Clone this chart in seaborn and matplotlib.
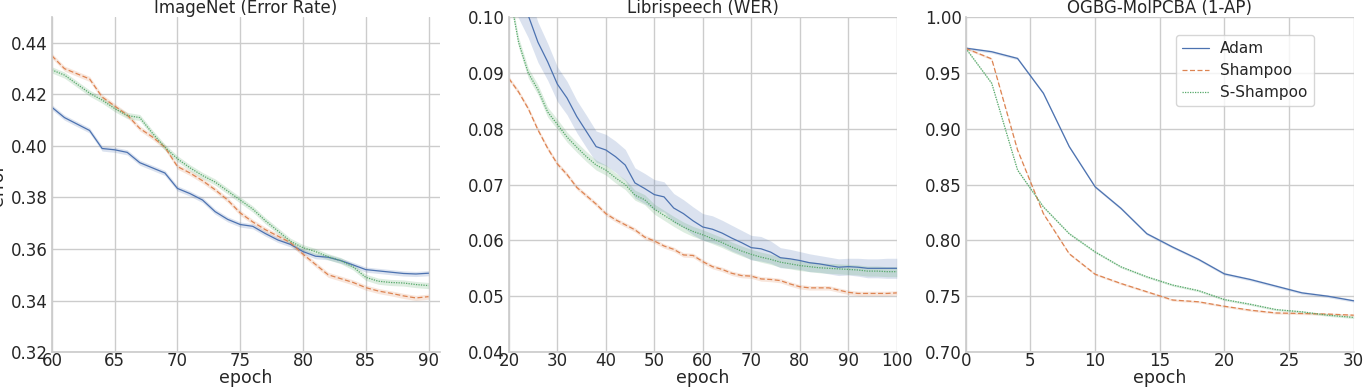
import numpy as np
import pandas as pd
import matplotlib
matplotlib.use("Agg")
import matplotlib.pyplot as plt
import seaborn as sns

optimizers = ["Adam", "Shampoo", "S-Shampoo"]

# ---------------- ImageNet ----------------
imagenet_epoch = list(range(60, 91))
imagenet_adam = [0.4150, 0.4110, 0.4085, 0.4060, 0.3990, 0.3985, 0.3975, 0.3935, 0.3915, 0.3895,
                 0.3835, 0.3815, 0.3790, 0.3745, 0.3715, 0.3695, 0.3688, 0.3660, 0.3635, 0.3618,
                 0.3590, 0.3572, 0.3568, 0.3555, 0.3538, 0.3520, 0.3515, 0.3510, 0.3505, 0.3503, 0.3506]
imagenet_shampoo = [0.4350, 0.4300, 0.4280, 0.4260, 0.4190, 0.4155, 0.4120, 0.4068, 0.4035, 0.3995,
                    0.3920, 0.3895, 0.3865, 0.3830, 0.3790, 0.3740, 0.3705, 0.3675, 0.3650, 0.3625,
                    0.3580, 0.3540, 0.3500, 0.3485, 0.3470, 0.3450, 0.3437, 0.3428, 0.3418, 0.3410, 0.3415]
imagenet_sshampoo = [0.4295, 0.4275, 0.4240, 0.4205, 0.4178, 0.4145, 0.4118, 0.4110, 0.4050, 0.3995,
                     0.3950, 0.3915, 0.3885, 0.3860, 0.3825, 0.3790, 0.3755, 0.3710, 0.3670, 0.3630,
                     0.3605, 0.3590, 0.3570, 0.3555, 0.3530, 0.3490, 0.3475, 0.3470, 0.3468, 0.3462, 0.3458]
imagenet_band = {"Adam": 0.0010, "Shampoo": 0.0010, "S-Shampoo": 0.0012}

# ---------------- Librispeech ----------------
libri_epoch = list(range(20, 101, 2))
libri_adam = [0.1080, 0.1040, 0.1003, 0.0955, 0.0920, 0.0880, 0.0855, 0.0822, 0.0795, 0.0768,
              0.0762, 0.0750, 0.0735, 0.0703, 0.0693, 0.0682, 0.0678, 0.0658, 0.0648, 0.0635,
              0.0624, 0.0620, 0.0613, 0.0604, 0.0596, 0.0587, 0.0585, 0.0579, 0.0569, 0.0567,
              0.0564, 0.0560, 0.0558, 0.0555, 0.0552, 0.0553, 0.0552, 0.0550, 0.0550, 0.0550, 0.0550]
libri_shampoo = [0.0890, 0.0866, 0.0836, 0.0798, 0.0765, 0.0737, 0.0718, 0.0695, 0.0680, 0.0665,
                 0.0648, 0.0637, 0.0628, 0.0619, 0.0606, 0.0599, 0.0590, 0.0584, 0.0574, 0.0573,
                 0.0562, 0.0553, 0.0548, 0.0541, 0.0537, 0.0536, 0.0531, 0.0530, 0.0528, 0.0522,
                 0.0517, 0.0515, 0.0515, 0.0515, 0.0511, 0.0507, 0.0505, 0.0505, 0.0505, 0.0505, 0.0506]
libri_sshampoo = [0.1050, 0.0955, 0.0900, 0.0870, 0.0830, 0.0808, 0.0785, 0.0767, 0.0750, 0.0735,
                  0.0726, 0.0712, 0.0700, 0.0681, 0.0673, 0.0656, 0.0645, 0.0634, 0.0624, 0.0616,
                  0.0610, 0.0603, 0.0596, 0.0588, 0.0581, 0.0575, 0.0570, 0.0566, 0.0561, 0.0558,
                  0.0555, 0.0553, 0.0551, 0.0550, 0.0549, 0.0548, 0.0547, 0.0545, 0.0545, 0.0544, 0.0544]
libri_adam_band = [0.0045, 0.0042, 0.0040, 0.0036, 0.0033, 0.0031, 0.0030, 0.0029, 0.0029, 0.0028,
                   0.0028, 0.0028, 0.0028, 0.0027, 0.0027, 0.0027, 0.0027, 0.0026, 0.0025, 0.0025,
                   0.0024, 0.0024, 0.0023, 0.0023, 0.0022, 0.0022, 0.0022, 0.0020, 0.0018, 0.0017,
                   0.0016, 0.0016, 0.0015, 0.0015, 0.0015, 0.0015, 0.0016, 0.0017, 0.0017, 0.0018, 0.0018]
libri_band = {"Shampoo": 0.0004, "S-Shampoo": 0.0009}

# ---------------- OGBG-MolPCBA ----------------
ogbg_epoch = list(range(0, 31, 2))
ogbg_adam = [0.9722, 0.9690, 0.9630, 0.9318, 0.8840, 0.8480, 0.8287, 0.8060, 0.7940, 0.7830,
             0.7700, 0.7650, 0.7590, 0.7530, 0.7500, 0.7459]
ogbg_shampoo = [0.9720, 0.9626, 0.8810, 0.8240, 0.7880, 0.7697, 0.7614, 0.7540, 0.7466, 0.7450,
                0.7410, 0.7375, 0.7350, 0.7345, 0.7340, 0.7330]
ogbg_sshampoo = [0.9720, 0.9408, 0.8630, 0.8300, 0.8060, 0.7897, 0.7763, 0.7674, 0.7600, 0.7550,
                 0.7470, 0.7428, 0.7380, 0.7360, 0.7330, 0.7310]
ogbg_band = {"Adam": 0.0012, "Shampoo": 0.0010, "S-Shampoo": 0.0010}

sns.set_theme(style="whitegrid")
plt.rcParams["font.family"] = ["DejaVu Sans"]

palette = dict(zip(optimizers, sns.color_palette("deep", 3)))
dashes = {"Adam": "", "Shampoo": (4, 2), "S-Shampoo": (1, 1)}


def make_df(epochs, series):
    rows = []
    for name, vals in series.items():
        for e, v in zip(epochs, vals):
            rows.append({"epoch": e, "error": v, "optimizer": name})
    return pd.DataFrame(rows)


fig, axes = plt.subplots(1, 3, figsize=(13.66, 3.89), dpi=100)
fig.subplots_adjust(left=0.038, right=0.991, bottom=0.095, top=0.956, wspace=0.178)

panels = [
    ("ImageNet (Error Rate)", imagenet_epoch,
     {"Adam": imagenet_adam, "Shampoo": imagenet_shampoo, "S-Shampoo": imagenet_sshampoo},
     {k: [imagenet_band[k]] * len(imagenet_epoch) for k in optimizers},
     (60, 90.9), (0.32, 0.45), [0.32, 0.34, 0.36, 0.38, 0.40, 0.42, 0.44], [60, 65, 70, 75, 80, 85, 90]),
    ("Librispeech (WER)", libri_epoch,
     {"Adam": libri_adam, "Shampoo": libri_shampoo, "S-Shampoo": libri_sshampoo},
     {"Adam": libri_adam_band,
      "Shampoo": [libri_band["Shampoo"]] * len(libri_epoch),
      "S-Shampoo": [libri_band["S-Shampoo"]] * len(libri_epoch)},
     (20, 100), (0.04, 0.10), [0.04, 0.05, 0.06, 0.07, 0.08, 0.09, 0.10], list(range(20, 101, 10))),
    ("OGBG-MolPCBA (1-AP)", ogbg_epoch,
     {"Adam": ogbg_adam, "Shampoo": ogbg_shampoo, "S-Shampoo": ogbg_sshampoo},
     {k: [ogbg_band[k]] * len(ogbg_epoch) for k in optimizers},
     (0, 30), (0.70, 1.00), [0.70, 0.75, 0.80, 0.85, 0.90, 0.95, 1.00], [0, 5, 10, 15, 20, 25, 30]),
]

for i, (ax, (title, ep, series, bands, xl, yl, yt, xt)) in enumerate(zip(axes, panels)):
    df = make_df(ep, series)
    sns.lineplot(data=df, x="epoch", y="error", hue="optimizer", style="optimizer",
                 hue_order=optimizers, style_order=optimizers, palette=palette,
                 dashes=dashes, errorbar=None, linewidth=0.9, ax=ax, legend=(i == 2))
    for name in optimizers:
        m = np.array(series[name])
        b = np.array(bands[name])
        ax.fill_between(ep, m - b, m + b, color=palette[name], alpha=0.2, linewidth=0)
    ax.set_xlim(*xl)
    ax.set_ylim(*yl)
    ax.set_yticks(yt)
    ax.set_xticks(xt)
    ax.set_title(title, fontsize=12, pad=3)
    ax.set_xlabel("epoch", fontsize=12.5, labelpad=-1)
    ax.set_ylabel("error" if i == 0 else "", fontsize=12.5, labelpad=3)
    ax.tick_params(axis="both", labelsize=12, length=0)
    ax.tick_params(axis="x", pad=0)
    ax.tick_params(axis="y", pad=3)
    sns.despine(ax=ax, top=True, right=True)
    for s in ["left", "bottom"]:
        ax.spines[s].set_color("#cccccc")

leg = axes[2].legend(loc="upper right", bbox_to_anchor=(0.897, 0.946), fontsize=11,
                     handlelength=1.75, handletextpad=0.75, labelspacing=0.45,
                     borderaxespad=0, frameon=True)
leg.set_title(None)

fig.savefig("out.png", dpi=100)
